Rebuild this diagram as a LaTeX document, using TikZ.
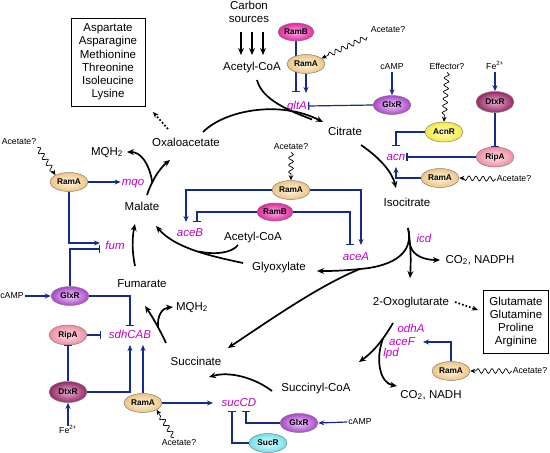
\documentclass[tikz,border=0pt]{standalone}
\usepackage{fontspec}
\setmainfont{Liberation Sans}
\usetikzlibrary{arrows.meta,shapes.geometric,decorations.pathmorphing}

\definecolor{regblue}{RGB}{20,45,140}
\definecolor{genecol}{RGB}{190,0,200}
\definecolor{ramAin}{RGB}{255,247,230}
\definecolor{ramAout}{RGB}{238,196,128}
\definecolor{ramBin}{RGB}{255,175,228}
\definecolor{ramBout}{RGB}{224,40,160}
\definecolor{glxRin}{RGB}{242,205,250}
\definecolor{glxRout}{RGB}{168,70,200}
\definecolor{dtxRin}{RGB}{232,175,212}
\definecolor{dtxRout}{RGB}{148,40,100}
\definecolor{ripAin}{RGB}{255,226,232}
\definecolor{ripAout}{RGB}{238,140,160}
\definecolor{acnRin}{RGB}{255,255,205}
\definecolor{acnRout}{RGB}{244,234,60}
\definecolor{sucRin}{RGB}{230,255,255}
\definecolor{sucRout}{RGB}{110,224,234}

\pgfdeclarelayer{background}
\pgfsetlayers{background,main}

\begin{document}
\begin{tikzpicture}[x=1pt,y=-1pt,
    met/.style={line width=1.7pt,-{Stealth[length=7pt,width=6pt]}},
    flux/.style={line width=1.7pt},
    dots/.style={line width=1.7pt,dotted,-{Stealth[length=6pt,width=5pt]}},
    act/.style={draw=regblue,line width=1.2pt,-{Stealth[length=6pt,width=5pt]}},
    inh/.style={draw=regblue,line width=1.2pt,-{Bar[width=8pt]}},
    wave/.style={decorate,decoration={snake,amplitude=2.4pt,segment length=7pt,post length=4pt},line width=0.7pt,-{Stealth[length=5pt,width=4.5pt]}},
    metab/.style={font=\fontsize{11.5}{13.2}\selectfont,text height=8.5pt,text depth=2.5pt,inner sep=1pt},
    gene/.style={font=\itshape\fontsize{11.5}{13.2}\selectfont,text=genecol,text height=8.5pt,text depth=2.5pt,inner sep=1pt},
    small/.style={font=\fontsize{8.7}{10}\selectfont,text height=6.4pt,text depth=1.8pt,inner sep=1pt},
    listbox/.style={draw,line width=0.8pt,align=center,font=\fontsize{11.5}{13.2}\selectfont,inner sep=2pt},
    prot/.style={ellipse,draw=black!50,line width=0.5pt,minimum width=38pt,minimum height=19pt,inner sep=0pt,font=\bfseries\fontsize{8.3}{9}\selectfont},
    ramA/.style={prot,inner color=ramAin,outer color=ramAout},
    ramB/.style={prot,minimum width=36pt,minimum height=18pt,inner color=ramBin,outer color=ramBout},
    glxR/.style={prot,inner color=glxRin,outer color=glxRout},
    dtxR/.style={prot,minimum height=21pt,inner color=dtxRin,outer color=dtxRout},
    ripA/.style={prot,minimum height=20pt,inner color=ripAin,outer color=ripAout},
    acnR/.style={prot,minimum height=20pt,inner color=acnRin,outer color=acnRout},
    sucR/.style={prot,inner color=sucRin,outer color=sucRout},
]
\useasboundingbox (0,0) rectangle (550,453);

% metabolites
\node[align=center,font=\fontsize{11.5}{13.2}\selectfont] (carbon) at (249,12) {Carbon\\sources};
\node[metab] (acCoA) at (252,67) {Acetyl-CoA};
\node[metab] (oaa) at (186,143) {Oxaloacetate};
\node[metab] (citrate) at (345,132) {Citrate};
\node[metab] (isocit) at (407,203) {Isocitrate};
\node[metab] (oxoglu) at (411,302) {2-Oxoglutarate};
\node[metab] (succoa) at (316,388) {Succinyl-CoA};
\node[metab] (succ) at (196,362) {Succinate};
\node[metab] (fumarate) at (142,284) {Fumarate};
\node[metab] (malate) at (142,207) {Malate};
\node[metab] (glyox) at (279,267) {Glyoxylate};
\node[metab] (acCoAg) at (253,237) {Acetyl-CoA};
\node[metab] (mqhA) at (107,152) {MQH\textsubscript{2}};
\node[metab] (mqhB) at (192,307) {MQH\textsubscript{2}};
\node[metab] (co2a) at (480,260) {CO\textsubscript{2}, NADPH};
\node[metab] (co2b) at (431,395) {CO\textsubscript{2}, NADH};
\node[listbox,minimum width=74pt,minimum height=88pt] (aminoA) at (108,62)
    {Aspartate\\Asparagine\\Methionine\\Threonine\\Isoleucine\\Lysine};
\node[listbox,minimum width=65pt,minimum height=63pt] (aminoG) at (516,322)
    {Glutamate\\Glutamine\\Proline\\Arginine};

% genes
\node[gene] (gltA) at (297,106) {gltA};
\node[gene] (acn) at (396,157) {acn};
\node[gene] (mqo) at (133,182) {mqo};
\node[gene] (fum) at (115,246) {fum};
\node[gene] (aceB) at (190,233) {aceB};
\node[gene] (aceA) at (356,257) {aceA};
\node[gene] (icd) at (424,239) {icd};
\node[gene] (sdhCAB) at (130,335) {sdhCAB};
\node[gene] (sucCD) at (239,403) {sucCD};
\node[gene] (odhA) at (411,329) {odhA};
\node[gene] (aceF) at (402,342) {aceF};
\node[gene] (lpd) at (391,353) {lpd};

% effectors
\node[small] (acetA) at (19,142) {Acetate?};
\node[small] (acetTop) at (388,30) {Acetate?};
\node[small] (acetC) at (291,147) {Acetate?};
\node[small] (acetD) at (514,179) {Acetate?};
\node[small] (acetE) at (530,371) {Acetate?};
\node[small] (acetF) at (179,443) {Acetate?};
\node[small] (effector) at (447,67) {Effector?};
\node[small] (campA) at (392,67) {cAMP};
\node[small] (campB) at (12,296) {cAMP};
\node[small] (campC) at (360,422) {cAMP};
\node[small] (feA) at (495,67) {Fe\textsuperscript{2+}};
\node[small] (feB) at (68,431) {Fe\textsuperscript{2+}};
\coordinate (acetTopEnd) at (367,37);

% regulators
\node[ramB] (ramBtop) at (296,32) {RamB};
\node[ramA] (ramAtop) at (306,64) {RamA};
\node[glxR] (glxRtop) at (392,105) {GlxR};
\node[acnR] (acnR) at (444,132) {AcnR};
\node[dtxR] (dtxRtop) at (495,102) {DtxR};
\node[ripA] (ripAtop) at (495,157) {RipA};
\node[ramA] (ramAacn) at (440,178) {RamA};
\node[ramA] (ramAmqo) at (69,182) {RamA};
\node[glxR] (glxRfum) at (70,296) {GlxR};
\node[ramA] (ramAace) at (291,190) {RamA};
\node[ramB] (ramBace) at (275,212) {RamB};
\node[ripA] (ripAsdh) at (68,335) {RipA};
\node[dtxR] (dtxRsdh) at (68,392) {DtxR};
\node[ramA] (ramAsuc) at (143,403) {RamA};
\node[glxR] (glxRsuc) at (299,423) {GlxR};
\node[sucR] (sucR) at (268,443) {SucR};
\node[ramA] (ramAodh) at (451,371) {RamA};

% central pathway
\foreach \dx in {-11,0,11}
    \draw[met] ([shift={(\dx+3,20)}]carbon.center) -- ([shift={(\dx,-12)}]acCoA.center);
\draw[met] ([shift={(17,-11)}]oaa.center) .. controls (225,110) and (280,100) .. ([shift={(-22,-10)}]citrate.center);
\coordinate (join1) at (312,119.5);
\draw[flux] ([shift={(5,13)}]acCoA.center) .. controls (262,100) and (290,111) .. (join1);
\draw[met] ([shift={(16,13)}]citrate.center) .. controls (380,158) and (392,172) .. ([shift={(-11,-15)}]isocit.center);
\draw[met] ([shift={(1,25)}]isocit.center) .. controls (411,245) and (411,262) .. ([shift={(-1,-24)}]oxoglu.center);
\coordinate (icdMid) at (410.5,246);
\draw[met] (icdMid) .. controls (413,256) and (425,260) .. ([shift={(-40,0)}]co2a.center);
\coordinate (lyase) at (360,269);
\draw[met] ([shift={(1,25)}]isocit.center) .. controls (414,252) and (395,266) .. (lyase)
    .. controls (340,271) and (330,271) .. ([shift={(38,4)}]glyox.center);
\draw[met] (lyase) .. controls (320,285) and (270,320) .. ([shift={(32,-14)}]succ.center);
\draw[met] ([shift={(-36,-4)}]glyox.center) .. controls (210,256) and (175,248) .. ([shift={(14,19)}]malate.center);
\coordinate (join2) at (199,251.5);
\draw[flux] ([shift={(-15,8)}]acCoAg.center) .. controls (232,253) and (215,255) .. (join2);
\draw[met] ([shift={(5,-12)}]malate.center) .. controls (152,180) and (160,168) .. ([shift={(-16,17)}]oaa.center);
\coordinate (mqoMid) at (152.3,182.4);
\draw[met] (mqoMid) .. controls (149,162) and (140,152) .. ([shift={(20,0)}]mqhA.center);
\draw[met] ([shift={(-7,-18)}]fumarate.center) .. controls (132,252) and (132,238) .. ([shift={(-7,17)}]malate.center);
\draw[met] ([shift={(-30,-19)}]succ.center) .. controls (160,330) and (152,316) .. ([shift={(3,22)}]fumarate.center);
\coordinate (sdhMid) at (158.1,327.3);
\draw[met] (sdhMid) .. controls (157,316) and (162,308) .. ([shift={(-19,0)}]mqhB.center);
\draw[met] ([shift={(-44,3)}]succoa.center) .. controls (255,378) and (230,371) .. ([shift={(13,15)}]succ.center);
\draw[met] ([shift={(-18,21)}]oxoglu.center) .. controls (386,335) and (376,350) .. ([shift={(43,-26)}]succoa.center);
\coordinate (odhMid) at (383,338.5);
\draw[met] (odhMid) .. controls (375,360) and (380,383) .. ([shift={(-34,-9)}]co2b.center);
\draw[dots] ([shift={(-18,-14)}]oaa.center) -- ([shift={(45,50)}]aminoA.center);
\draw[dots] ([shift={(44,0)}]oxoglu.center) -- ([shift={(-38,-12)}]aminoG.center);

% regulation
\draw[act] (campA.south) -- (glxRtop.north);
\draw[inh] (glxRtop.west) -- (gltA.east);
\begin{pgfonlayer}{background}
\draw[inh] (ramBtop.south) -- ([shift={(-1,-14)}]gltA.center);
\end{pgfonlayer}
\draw[act] (ramAtop.south) -- ([shift={(9,-13)}]gltA.center);
\draw[act] (feA.south) -- (dtxRtop.north);
\draw[inh] (dtxRtop.south) -- (ripAtop.north);
\draw[inh] (ripAtop.west) -- (acn.east);
\draw[inh] (acnR.west) -| ([shift={(0,-11)}]acn.center);
\draw[act] (ramAacn.west) -| ([shift={(0,10)}]acn.center);
\draw[act] (ramAace.west) -| ([shift={(-4,-11)}]aceB.center);
\draw[inh] (ramBace.west) -| ([shift={(7,-11)}]aceB.center);
\draw[act] (ramAace.east) -| ([shift={(5,-12)}]aceA.center);
\draw[inh] (ramBace.east) -| ([shift={(-6,-12)}]aceA.center);
\draw[act] (ramAmqo.east) -- (mqo.west);
\draw[act] (ramAmqo.south) |- ([shift={(-15,-3)}]fum.center);
\draw[inh] (glxRfum.north) |- ([shift={(-15,3)}]fum.center);
\draw[act] (campB.east) -- (glxRfum.west);
\draw[inh] (glxRfum.east) -| ([shift={(0,-9)}]sdhCAB.center);
\draw[act] (dtxRsdh.east) -| ([shift={(0,10)}]sdhCAB.center);
\draw[act] (ramAsuc.north) -- ([shift={(13,10)}]sdhCAB.center);
\draw[inh] (dtxRsdh.north) -- (ripAsdh.south);
\draw[inh] (ripAsdh.east) -- ([shift={(-29,0)}]sdhCAB.center);
\draw[act] (feB.north) -- (dtxRsdh.south);
\draw[act] (ramAsuc.east) -- ([shift={(-26,0)}]sucCD.center);
\draw[inh] (glxRsuc.west) -| ([shift={(7,8)}]sucCD.center);
\draw[inh] (sucR.west) -| ([shift={(-7,8)}]sucCD.center);
\draw[act] (campC.west) -- (glxRsuc.east);
\draw[act] (ramAodh.north) |- ([shift={(21,0)}]aceF.center);

% signals
\draw[wave] (acetA.south east) -- (ramAmqo.north west);
\draw[wave] (acetTopEnd) -- (ramAtop.20);
\draw[wave] (acetC.south) -- (ramAace.north);
\draw[wave] (effector.south) -- (acnR.north);
\draw[wave] (acetD.west) -- (ramAacn.east);
\draw[wave] (acetE.west) -- (ramAodh.east);
\draw[wave] ([xshift=-5pt]acetF.north) -- (ramAsuc.south east);
\end{tikzpicture}
\end{document}
